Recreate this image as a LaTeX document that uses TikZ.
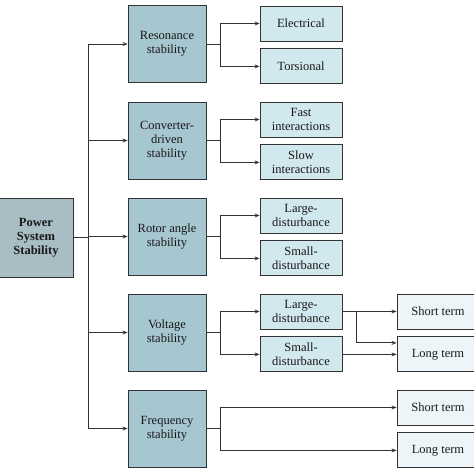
\documentclass[tikz,border=0pt]{standalone}
\usepackage{fontspec}
\setmainfont{Liberation Serif}
\usetikzlibrary{arrows.meta, positioning}
\definecolor{rootc}{HTML}{A8BDC4}
\definecolor{mainc}{HTML}{A6C6D0}
\definecolor{subc}{HTML}{D2E8EF}
\definecolor{termc}{HTML}{EDF5F8}
\definecolor{edgec}{HTML}{333333}

\begin{document}
\begin{tikzpicture}[x=1pt, y=-1pt, >={Stealth[length=5pt, width=4pt]},
  line width=0.9pt, draw=edgec,
  box/.style={draw=edgec, line width=0.9pt, align=center, inner sep=1pt,
              text=black!90, font=\fontsize{12.5}{14}\selectfont},
  rootbox/.style={box, fill=rootc, minimum width=74pt, minimum height=79pt,
                  font=\bfseries\fontsize{12.5}{14}\selectfont},
  mainbox/.style={box, fill=mainc, minimum width=78pt, minimum height=77pt},
  subbox/.style={box, fill=subc, minimum width=82pt, minimum height=35pt},
  termbox/.style={box, fill=termc, minimum width=82pt, minimum height=35pt}]
  \useasboundingbox (0,0) rectangle (474,474);

  % root and first level
  \node[rootbox] (root) at (36,237.5) {Power\\System\\Stability};
  \node[mainbox] (res)  at (167,44)    {Resonance\\stability};
  \node[mainbox] (conv) at (167,140.5) {Converter-\\driven\\stability};
  \node[mainbox] (rot)  at (167,236.5) {Rotor angle\\stability};
  \node[mainbox] (volt) at (167,332.5) {Voltage\\stability};
  \node[mainbox] (freq) at (167,428.5) {Frequency\\stability};

  % second level
  \node[subbox] (ele) at (301,23.5) {Electrical};
  \node[subbox, below=7pt of ele] (tor) {Torsional};
  \node[subbox] (fast) at (301,119.5) {Fast\\interactions};
  \node[subbox, below=7pt of fast] (slow) {Slow\\interactions};
  \node[subbox] (rlarge) at (301,215.5) {Large-\\disturbance};
  \node[subbox, below=7pt of rlarge] (rsmall) {Small-\\disturbance};
  \node[subbox] (vlarge) at (301,311.5) {Large-\\disturbance};
  \node[subbox, below=7pt of vlarge] (vsmall) {Small-\\disturbance};

  % third level
  \node[termbox] (vshort) at (438,311.5) {Short term};
  \node[termbox, below=7pt of vshort] (vlong) {Long term};
  \node[termbox] (fshort) at (438,407.5) {Short term};
  \node[termbox, below=7pt of fshort] (flong) {Long term};

  % trunk
  \coordinate (tk) at (88,237.5);
  \draw (root.east) -- (tk);
  \draw (res.west -| tk) -- (freq.west -| tk);
  \foreach \m in {res, conv, rot, volt, freq}
    \draw[->] (\m.west -| tk) -- (\m.west);

  % branches
  \foreach \m/\a/\b in {res/ele/tor, conv/fast/slow, rot/rlarge/rsmall,
                        volt/vlarge/vsmall, freq/fshort/flong} {
    \draw (\m.east) -- ++(14,0) coordinate (b\m);
    \draw[->] (b\m) |- (\a.west);
    \draw[->] (b\m) |- (\b.west);
  }
  \draw[->] (vlarge) -- (vshort);
  \draw[->] (vsmall) -- (vlong);
  \draw[->] (vlarge.east) -- ++(14,0) |- ([yshift=11.5pt]vlong.west);
\end{tikzpicture}
\end{document}
